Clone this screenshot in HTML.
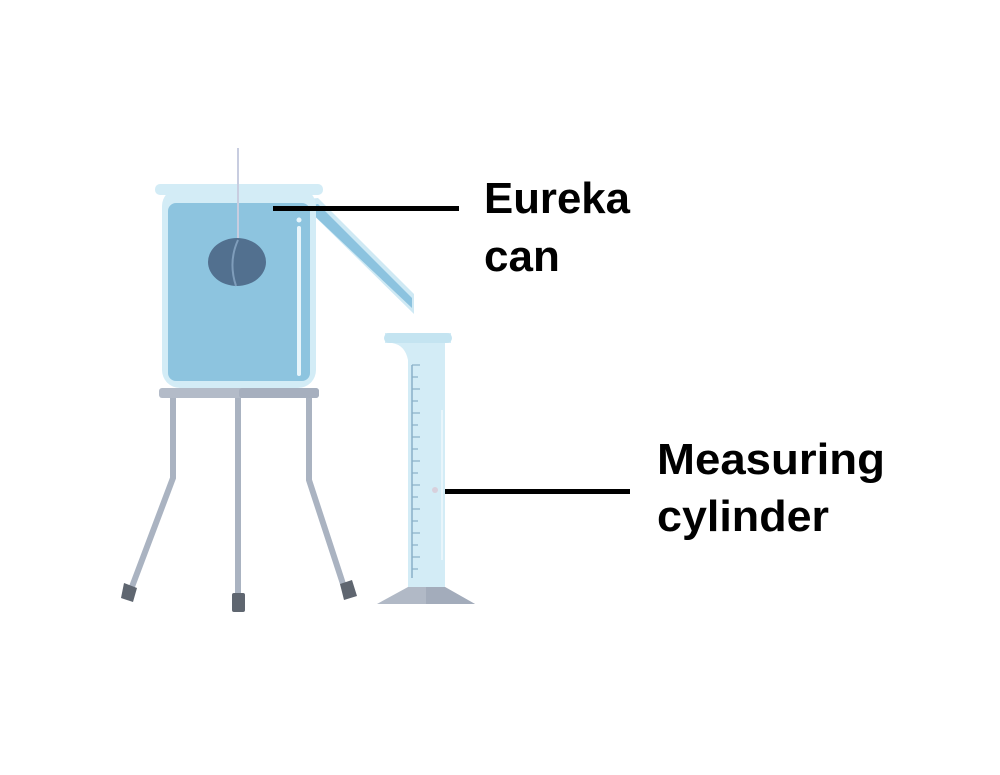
<!DOCTYPE html>
<html><head><style>
body{margin:0;background:#fff;}
.t{font-family:"Liberation Sans",sans-serif;font-weight:bold;font-size:44px;fill:#000;}
</style></head><body>
<svg width="1000" height="770" viewBox="0 0 1000 770">
<!-- spout -->
<polygon points="298,200 318,198 414,294 414,314" fill="#cfe9f4"/>
<polygon points="304,206 318,204 412,298 412,308" fill="#8cc3df"/>
<!-- beaker -->
<rect x="155" y="184" width="168" height="11" rx="5" fill="#d3ecf6"/>
<rect x="162" y="188" width="154" height="200" rx="18" fill="#d3ecf6"/>
<rect x="168" y="203" width="142" height="178" rx="8" fill="#8dc4df"/>
<rect x="297" y="226" width="4" height="150" rx="2" fill="#e8f5fb"/>
<circle cx="299" cy="220" r="2.5" fill="#e8f5fb"/>
<!-- string & sphere -->
<line x1="238" y1="148" x2="238" y2="240" stroke="#c8cde0" stroke-width="2"/>
<ellipse cx="237" cy="262" rx="29" ry="24" fill="#52708f"/>
<path d="M238,240 Q228,262 236,286" stroke="#7f9dbb" stroke-width="2" fill="none"/>
<!-- stand -->
<rect x="159" y="388" width="160" height="10" rx="3" fill="#b3bbc8"/>
<rect x="239" y="388" width="80" height="10" rx="3" fill="#a6afbe"/>
<polyline points="173,398 173,478 130,592" stroke="#aab3c1" stroke-width="6" fill="none"/>
<line x1="238" y1="398" x2="238" y2="596" stroke="#aab3c1" stroke-width="6"/>
<polyline points="309,398 309,480 345,590" stroke="#aab3c1" stroke-width="6" fill="none"/>
<polygon points="124,583 137,588 133,602 121,598" fill="#5f6670"/>
<rect x="232" y="593" width="13" height="19" rx="2" fill="#5f6670"/>
<polygon points="340,584 352,580 357,596 344,600" fill="#5f6670"/>
<!-- cylinder -->
<path d="M385,333 H451 V343 H445 V587 H408 V360 Q405,345 392,343 H385 Z" fill="#d3ecf6"/>
<rect x="384" y="333" width="68" height="10" rx="5" fill="#c4e4f1"/>
<polygon points="408,587 445,587 475,604 377,604" fill="#b1b9c6"/>
<polygon points="426,587 445,587 475,604 426,604" fill="#a3acbb"/>
<line x1="412" y1="365" x2="412" y2="578" stroke="#8ab0c8" stroke-width="1.5"/>
<g stroke="#8ab0c8" stroke-width="1.2">
<line x1="412" y1="365" x2="420" y2="365"/><line x1="412" y1="377" x2="418" y2="377"/>
<line x1="412" y1="389" x2="420" y2="389"/><line x1="412" y1="401" x2="418" y2="401"/>
<line x1="412" y1="413" x2="420" y2="413"/><line x1="412" y1="425" x2="418" y2="425"/>
<line x1="412" y1="437" x2="420" y2="437"/><line x1="412" y1="449" x2="418" y2="449"/>
<line x1="412" y1="461" x2="420" y2="461"/><line x1="412" y1="473" x2="418" y2="473"/>
<line x1="412" y1="485" x2="420" y2="485"/><line x1="412" y1="497" x2="418" y2="497"/>
<line x1="412" y1="509" x2="420" y2="509"/><line x1="412" y1="521" x2="418" y2="521"/>
<line x1="412" y1="533" x2="420" y2="533"/><line x1="412" y1="545" x2="418" y2="545"/>
<line x1="412" y1="557" x2="420" y2="557"/><line x1="412" y1="569" x2="418" y2="569"/>
</g>
<rect x="441" y="410" width="2" height="150" fill="#e8f5fb"/>
<circle cx="435" cy="490" r="3" fill="#d8d0dc"/>
<!-- leader lines -->
<rect x="273" y="206" width="186" height="5" fill="#000"/>
<rect x="445" y="489" width="185" height="5" fill="#000"/>
<text class="t" x="484" y="213" textLength="146" lengthAdjust="spacingAndGlyphs">Eureka</text>
<text class="t" x="484" y="271">can</text>
<text class="t" x="657" y="474" textLength="228" lengthAdjust="spacingAndGlyphs">Measuring</text>
<text class="t" x="657" y="531" textLength="172" lengthAdjust="spacingAndGlyphs">cylinder</text>
</svg>
</body></html>
